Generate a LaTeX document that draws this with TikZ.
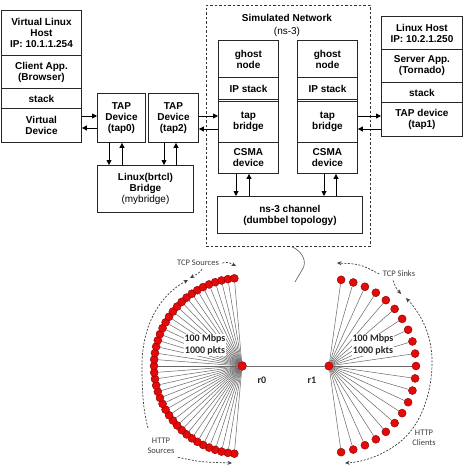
\documentclass[tikz,border=0pt]{standalone}
\usepackage{fontspec}
\setmainfont{Liberation Sans}
\newfontfamily\calib{Carlito}
\usepackage{xcolor}
\definecolor{nodered}{RGB}{228,10,10}
\definecolor{rimred}{RGB}{130,0,0}
\usetikzlibrary{arrows.meta}

\begin{document}
\begin{tikzpicture}[x=1pt,y=-1pt,
    cell/.style={draw=black!85,line width=0.9pt,anchor=north west,align=center,inner sep=1pt,font=\bfseries\fontsize{10}{11}\selectfont},
    arr/.style={-{Triangle[length=5pt,width=5pt]},line width=0.9pt},
    host/.style={circle,fill=nodered,draw=rimred,line width=0.4pt,inner sep=0pt,minimum size=8pt},
    spoke/.style={black!60,line width=0.5pt},
    flow/.style={black!75,line width=0.7pt,dash pattern=on 2pt off 1.5pt,-{Stealth[length=4.5pt,width=4pt]}},
    lbl/.style={align=center,text=black!75,font=\calib\fontsize{8.5}{10}\selectfont},
    rate/.style={align=center,fill=white,inner sep=1pt,text=black!85,font=\calib\bfseries\fontsize{10}{12}\selectfont}]
    \useasboundingbox[fill=white] (0,0) rectangle (474,474);
    % client side
    \node[cell,minimum width=80pt,minimum height=45pt] (vhost) at (1,10) {Virtual Linux\\Host\\IP: 10.1.1.254};
    \node[cell,minimum width=80pt,minimum height=33pt] (client) at (1,55) {Client App.\\(Browser)};
    \node[cell,minimum width=80pt,minimum height=20pt] (lstack) at (1,88) {stack};
    \node[cell,minimum width=80pt,minimum height=34pt] (vdev) at (1,108) {Virtual\\Device};
    \node[cell,minimum width=48pt,minimum height=49pt] (tap0) at (97,93) {TAP\\Device\\(tap0)};
    \node[cell,minimum width=50pt,minimum height=49pt] (tap2) at (148,93) {TAP\\Device\\(tap2)};
    \node[cell,minimum width=96pt,minimum height=47pt] (bridge) at (97,165) {Linux(brtcl)\\Bridge\\{\mdseries(mybridge)}};
    % ns-3 part
    \node[draw=black!80,line width=0.8pt,dash pattern=on 2.5pt off 2pt,anchor=north west,minimum width=164pt,minimum height=241pt] (ns3) at (206,5) {};
    \node[align=center,font=\bfseries\fontsize{10}{13}\selectfont] (simnet) at (287,25.5) {Simulated Network\\{\mdseries(ns-3)}};
    \foreach \s/\x in {L/218,R/297}{
        \node[cell,minimum width=60pt,minimum height=37pt] (ghost\s) at (\x,40) {ghost\\node};
        \node[cell,minimum width=60pt,minimum height=22pt] (ip\s) at (\x,77) {IP stack};
        \node[cell,minimum width=60pt,minimum height=41pt] (tapb\s) at (\x,101) {tap\\bridge};
        \node[cell,minimum width=60pt,minimum height=31pt] (csma\s) at (\x,142) {CSMA\\device};
        \draw[black!85,line width=0.9pt] (ip\s.south west) -- (tapb\s.north west) (ip\s.south east) -- (tapb\s.north east);
    }
    \node[cell,minimum width=145pt,minimum height=37pt] (chan) at (217,196) {ns-3 channel\\(dumbbel topology)};
    % server side
    \node[cell,minimum width=81pt,minimum height=33pt] (lhost) at (381,16) {Linux Host\\IP: 10.2.1.250};
    \node[cell,minimum width=81pt,minimum height=33pt] (server) at (381,49) {Server App.\\(Tornado)};
    \node[cell,minimum width=81pt,minimum height=20pt] (rstack) at (381,82) {stack};
    \node[cell,minimum width=81pt,minimum height=34pt] (tap1) at (381,102) {TAP device\\(tap1)};
    % arrows
    \draw[arr] (vdev.east |- 0,116) -- (tap0.west |- 0,116);
    \draw[arr] (tap0.west |- 0,128) -- (vdev.east |- 0,128);
    \draw[arr] (tap2.east |- 0,116) -- (tapbL.west |- 0,116);
    \draw[arr] (tapbL.west |- 0,129) -- (tap2.east |- 0,129);
    \draw[arr] (tapbR.east |- 0,116) -- (tap1.west |- 0,116);
    \draw[arr] (tap1.west |- 0,129) -- (tapbR.east |- 0,129);
    \draw[arr] (tap0.south -| 109,0) -- (bridge.north -| 109,0);
    \draw[arr] (bridge.north -| 122,0) -- (tap0.south -| 122,0);
    \draw[arr] (tap2.south -| 164,0) -- (bridge.north -| 164,0);
    \draw[arr] (bridge.north -| 176,0) -- (tap2.south -| 176,0);
    \draw[arr] (csmaL.south -| 236,0) -- (chan.north -| 236,0);
    \draw[arr] (chan.north -| 249,0) -- (csmaL.south -| 249,0);
    \draw[arr] (csmaR.south -| 324,0) -- (chan.north -| 324,0);
    \draw[arr] (chan.north -| 336,0) -- (csmaR.south -| 336,0);
    % zoom line
    \coordinate (tail) at (ns3.south -| 292,0);
    \draw[black!65,line width=0.6pt] (tail) .. controls (302,251) and (308,262) .. (302,270) .. controls (298,276) .. (295,282);
    % dumbbell
    \node[host,minimum size=9pt] (r0) at (242,366) {};
    \node[host,minimum size=8.5pt] (r1) at (329,366) {};
    \draw[black!55,line width=0.9pt] (r0) -- (r1);
    \foreach \i in {0,...,40}{
        \pgfmathsetmacro\a{95+4.25*\i}
        \node[host] (src\i) at ([shift={(\a:88)}]r0) {};
        \draw[spoke] (r0) -- (src\i);
    }
    \foreach \i in {0,...,20}{
        \pgfmathsetmacro\a{-82+8.2*\i}
        \node[host] (snk\i) at ([shift={(\a:87)}]r1) {};
        \draw[spoke] (r1) -- (snk\i);
    }
    \node[rate] (rateL) at (205,345) {100 Mbps\\1000 pkts};
    \node[rate] (rateR) at (373,345) {100 Mbps\\1000 pkts};
    \node[rate,fill=none] (r0lbl) at (262,380) {r0};
    \node[rate,fill=none] (r1lbl) at (312,380) {r1};
    % sources and sinks
    \node[lbl] (tcpsrc) at (198,263) {TCP Sources};
    \node[lbl] (httpsrc) at (161,446) {HTTP\\Sources};
    \node[lbl] (tcpsnk) at (399,274) {TCP Sinks};
    \node[lbl] (httpcli) at (424,438) {HTTP\\Clients};
    \draw[flow] (tcpsrc.east) .. controls (228,262) .. (236,266);
    \draw[flow] ([xshift=4pt]tcpsrc.south) .. controls (199,273) .. (190,278);
    \draw[flow] (148,428) .. controls (143,410) and (142,390) .. (142,366) .. controls (142,325) and (160,295) .. (188,280);
    \draw[flow] (httpsrc.south east) .. controls (200,462) .. (232,463);
    \draw[flow] (tcpsnk.west) .. controls (360,264) .. (337,263);
    \draw[flow] ([xshift=-6pt]tcpsnk.south) .. controls (396,288) .. (401,294);
    \draw[flow,{Stealth[length=4.5pt,width=4pt]}-{Stealth[length=4.5pt,width=4pt]}] (406,298) .. controls (425,318) and (433,342) .. (432,366) .. controls (431,395) and (421,425) .. (400,442) .. controls (385,454) and (365,462) .. (345,463);
\end{tikzpicture}
\end{document}
